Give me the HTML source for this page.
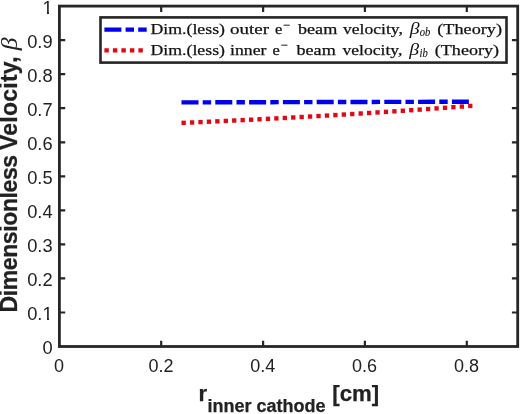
<!DOCTYPE html>
<html><head><meta charset="utf-8">
<style>
html,body{margin:0;padding:0;background:#fff;}
svg{display:block;}
text{font-family:"Liberation Sans",sans-serif;fill:#222;}
.tk{font-size:18px;}
.lg{font-family:"Liberation Serif",serif;font-size:15.5px;fill:#111;stroke:#111;stroke-width:0.25px;}
.b{font-weight:bold;fill:#222;stroke:#222;stroke-width:0.25px;}
</style></head><body>
<svg width="520" height="414" viewBox="0 0 520 414">
<rect x="0" y="0" width="520" height="414" fill="#fff"/>
<!-- axes box -->
<rect x="59.4" y="6.1" width="458.3" height="340.4" fill="none" stroke="#262626" stroke-width="2.8"/>
<!-- ticks -->
<g stroke="#262626" stroke-width="2.2">
<path d="M161.2 346.5v-5.8M263.1 346.5v-5.8M364.9 346.5v-5.8M466.8 346.5v-5.8"/>
<path d="M161.2 6.1v5.8M263.1 6.1v5.8M364.9 6.1v5.8M466.8 6.1v5.8"/>
<path d="M59.4 312.5h5.8M59.4 278.4h5.8M59.4 244.4h5.8M59.4 210.3h5.8M59.4 176.3h5.8M59.4 142.3h5.8M59.4 108.2h5.8M59.4 74.2h5.8M59.4 40.1h5.8"/>
<path d="M517.7 312.5h-5.8M517.7 278.4h-5.8M517.7 244.4h-5.8M517.7 210.3h-5.8M517.7 176.3h-5.8M517.7 142.3h-5.8M517.7 108.2h-5.8M517.7 74.2h-5.8M517.7 40.1h-5.8"/>
</g>
<!-- y tick labels -->
<g class="tk" text-anchor="end" style="font-size:18.3px">
<text x="52.6" y="354.0">0</text>
<text x="52.6" y="320.0">0.1</text>
<text x="52.6" y="285.9">0.2</text>
<text x="52.6" y="251.9">0.3</text>
<text x="52.6" y="217.8">0.4</text>
<text x="52.6" y="183.8">0.5</text>
<text x="52.6" y="149.8">0.6</text>
<text x="52.6" y="115.7">0.7</text>
<text x="52.6" y="81.7">0.8</text>
<text x="52.6" y="47.6">0.9</text>
<text x="52.6" y="13.9">1</text>
</g>
<rect x="42" y="317.6" width="5" height="2.8" fill="#fff"/><rect x="49" y="317.6" width="4" height="2.8" fill="#fff"/><rect x="42" y="11.6" width="5" height="2.8" fill="#fff"/><rect x="49" y="11.6" width="4" height="2.8" fill="#fff"/>
<!-- x tick labels -->
<g class="tk" text-anchor="middle">
<text x="59.1" y="371.8">0</text>
<text x="160.9" y="371.8">0.2</text>
<text x="262.8" y="371.8">0.4</text>
<text x="364.6" y="371.8">0.6</text>
<text x="466.5" y="371.8">0.8</text>
</g>
<!-- data lines -->
<path d="M181.5 102.4L472.5 101.7" stroke="#0000ee" stroke-width="4.4" stroke-dasharray="17 4.2 8.4 4.2" fill="none"/>
<g fill="#e30613">
<rect x="181.50" y="120.63" width="4.30" height="4.4"/><rect x="189.93" y="120.27" width="4.30" height="4.4"/><rect x="198.36" y="119.90" width="4.30" height="4.4"/><rect x="206.79" y="119.52" width="4.30" height="4.4"/><rect x="215.22" y="119.13" width="4.30" height="4.4"/>
<rect x="223.65" y="118.73" width="4.30" height="4.4"/><rect x="232.08" y="118.33" width="4.30" height="4.4"/><rect x="240.51" y="117.92" width="4.30" height="4.4"/><rect x="248.94" y="117.50" width="4.30" height="4.4"/><rect x="257.37" y="117.07" width="4.30" height="4.4"/>
<rect x="265.80" y="116.63" width="4.30" height="4.4"/><rect x="274.23" y="116.19" width="4.30" height="4.4"/><rect x="282.66" y="115.74" width="4.30" height="4.4"/><rect x="291.09" y="115.28" width="4.30" height="4.4"/><rect x="299.52" y="114.81" width="4.30" height="4.4"/>
<rect x="307.95" y="114.33" width="4.30" height="4.4"/><rect x="316.38" y="113.85" width="4.30" height="4.4"/><rect x="324.81" y="113.36" width="4.30" height="4.4"/><rect x="333.24" y="112.85" width="4.30" height="4.4"/><rect x="341.67" y="112.35" width="4.30" height="4.4"/>
<rect x="350.10" y="111.83" width="4.30" height="4.4"/><rect x="358.53" y="111.30" width="4.30" height="4.4"/><rect x="366.96" y="110.77" width="4.30" height="4.4"/><rect x="375.39" y="110.23" width="4.30" height="4.4"/><rect x="383.82" y="109.68" width="4.30" height="4.4"/>
<rect x="392.25" y="109.12" width="4.30" height="4.4"/><rect x="400.68" y="108.56" width="4.30" height="4.4"/><rect x="409.11" y="107.98" width="4.30" height="4.4"/><rect x="417.54" y="107.40" width="4.30" height="4.4"/><rect x="425.97" y="106.81" width="4.30" height="4.4"/>
<rect x="434.40" y="106.21" width="4.30" height="4.4"/><rect x="442.83" y="105.61" width="4.30" height="4.4"/><rect x="451.26" y="104.99" width="4.30" height="4.4"/><rect x="459.69" y="104.37" width="4.30" height="4.4"/><rect x="468.12" y="103.74" width="4.30" height="4.4"/>
</g>
<!-- legend -->
<rect x="100.5" y="17.4" width="406" height="45.2" fill="#fff" stroke="#262626" stroke-width="2.6"/>
<path d="M104.4 29.6H146.7" stroke="#0000ee" stroke-width="4.2" stroke-dasharray="17 4.2 8.4 4.2" fill="none"/>
<path d="M104.4 50.4H146.7" stroke="#e30613" stroke-width="4.4" stroke-dasharray="4.4 4.1" fill="none"/>
<text class="lg" x="150.5" y="33.6" textLength="74.5" lengthAdjust="spacingAndGlyphs">Dim.(less)</text>
<text class="lg" x="230" y="33.6" textLength="39" lengthAdjust="spacingAndGlyphs">outer</text>
<text class="lg" x="275" y="33.6" textLength="7.3" lengthAdjust="spacingAndGlyphs">e</text>
<text class="lg" x="283.3" y="28.6" textLength="7" lengthAdjust="spacingAndGlyphs" style="font-size:12px">−</text>
<text class="lg" x="298" y="33.6" textLength="39.3" lengthAdjust="spacingAndGlyphs">beam</text>
<text class="lg" x="343" y="33.6" textLength="59.8" lengthAdjust="spacingAndGlyphs">velocity,</text>
<text class="lg" x="409.8" y="33.6" textLength="9.8" lengthAdjust="spacingAndGlyphs" style="font-size:16px;font-style:italic;stroke-width:0">β</text>
<text class="lg" x="419.8" y="35.6" textLength="10.6" lengthAdjust="spacingAndGlyphs" style="font-size:12px;font-style:italic;stroke-width:0.1px">ob</text>
<text class="lg" x="437.3" y="33.6" textLength="64.7" lengthAdjust="spacingAndGlyphs">(Theory)</text>
<text class="lg" x="150.5" y="54.6" textLength="74.5" lengthAdjust="spacingAndGlyphs">Dim.(less)</text>
<text class="lg" x="230" y="54.6" textLength="36.5" lengthAdjust="spacingAndGlyphs">inner</text>
<text class="lg" x="272.5" y="54.6" textLength="7.3" lengthAdjust="spacingAndGlyphs">e</text>
<text class="lg" x="280.9" y="49.3" textLength="7" lengthAdjust="spacingAndGlyphs" style="font-size:12px">−</text>
<text class="lg" x="296.5" y="54.6" textLength="39.3" lengthAdjust="spacingAndGlyphs">beam</text>
<text class="lg" x="342.5" y="54.6" textLength="59.8" lengthAdjust="spacingAndGlyphs">velocity,</text>
<text class="lg" x="409.3" y="54.6" textLength="9.8" lengthAdjust="spacingAndGlyphs" style="font-size:16px;font-style:italic;stroke-width:0">β</text>
<text class="lg" x="419.6" y="56.6" textLength="8.2" lengthAdjust="spacingAndGlyphs" style="font-size:12px;font-style:italic;stroke-width:0.1px">ib</text>
<text class="lg" x="434.8" y="54.6" textLength="64.2" lengthAdjust="spacingAndGlyphs">(Theory)</text>
<!-- x label -->
<text class="b" x="198.6" y="400.9" style="font-size:22px">r</text>
<text class="b" x="207.4" y="412.2" textLength="118.2" lengthAdjust="spacing" style="font-size:18px">inner cathode</text>
<text class="b" x="332.3" y="401" style="font-size:22.2px">[cm]</text>
<!-- y label -->
<text class="b" transform="translate(17.4 312.4) rotate(-90)" textLength="157.5" lengthAdjust="spacing" style="font-size:23px">Dimensionless</text>
<text class="b" transform="translate(17.4 150) rotate(-90)" textLength="93.6" lengthAdjust="spacing" style="font-size:23px">Velocity,</text>
<text transform="translate(17.3 50.3) rotate(-90) scale(1.12 1)" style="font-size:22.9px;fill:#222;font-family:'Liberation Serif',serif;font-style:italic">β</text>
</svg>
</body></html>
